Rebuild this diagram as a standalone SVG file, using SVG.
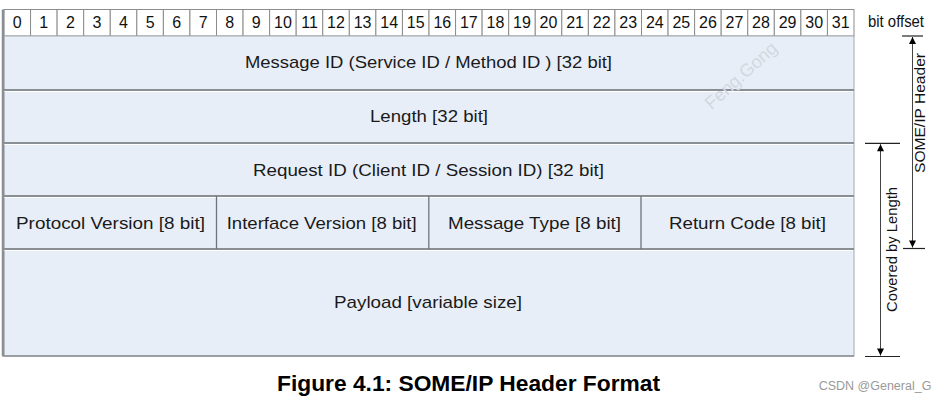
<svg xmlns="http://www.w3.org/2000/svg" width="938" height="402" viewBox="0 0 938 402">
<defs>
<style>
.cell{fill:#fff;stroke:#8c8c8c;stroke-width:1}
.num{font-family:"Liberation Sans",Arial,sans-serif;font-size:16px;fill:#111;text-anchor:middle}
.field{fill:#e8eef8}
.sep{stroke:#8a8f96;stroke-width:2}
.hl{stroke:#ffffff;stroke-width:1}
.div{stroke:#6f747a;stroke-width:1.3}
.lbl{font-family:"Liberation Sans",Arial,sans-serif;font-size:17px;fill:#1a1a1a;text-anchor:middle}
.side{font-family:"Liberation Sans",Arial,sans-serif;font-size:15.5px;fill:#111;text-anchor:middle}
.tick{stroke:#222;stroke-width:1.2}
.arr{stroke:#444;stroke-width:1;marker-start:url(#ah);marker-end:url(#ah)}
</style>
<marker id="ah" viewBox="0 0 10 10" refX="10" refY="5" markerWidth="9" markerHeight="7" markerUnits="userSpaceOnUse" orient="auto-start-reverse"><path d="M0,0 L10,5 L0,10 z" fill="#000"/></marker>
</defs>
<rect width="938" height="402" fill="#fff"/>

<g id="bit-offset-row">
<rect class="cell" x="4" y="9.5" width="26.56" height="26.5"/><text class="num" x="17.3" y="28">0</text>
<rect class="cell" x="30.56" y="9.5" width="26.56" height="26.5"/><text class="num" x="43.8" y="28">1</text>
<rect class="cell" x="57.12" y="9.5" width="26.56" height="26.5"/><text class="num" x="70.4" y="28">2</text>
<rect class="cell" x="83.69" y="9.5" width="26.56" height="26.5"/><text class="num" x="97" y="28">3</text>
<rect class="cell" x="110.25" y="9.5" width="26.56" height="26.5"/><text class="num" x="123.5" y="28">4</text>
<rect class="cell" x="136.81" y="9.5" width="26.56" height="26.5"/><text class="num" x="150.1" y="28">5</text>
<rect class="cell" x="163.38" y="9.5" width="26.56" height="26.5"/><text class="num" x="176.7" y="28">6</text>
<rect class="cell" x="189.94" y="9.5" width="26.56" height="26.5"/><text class="num" x="203.2" y="28">7</text>
<rect class="cell" x="216.5" y="9.5" width="26.56" height="26.5"/><text class="num" x="229.8" y="28">8</text>
<rect class="cell" x="243.06" y="9.5" width="26.56" height="26.5"/><text class="num" x="256.3" y="28">9</text>
<rect class="cell" x="269.62" y="9.5" width="26.56" height="26.5"/><text class="num" x="282.9" y="28">10</text>
<rect class="cell" x="296.19" y="9.5" width="26.56" height="26.5"/><text class="num" x="309.5" y="28">11</text>
<rect class="cell" x="322.75" y="9.5" width="26.56" height="26.5"/><text class="num" x="336" y="28">12</text>
<rect class="cell" x="349.31" y="9.5" width="26.56" height="26.5"/><text class="num" x="362.6" y="28">13</text>
<rect class="cell" x="375.88" y="9.5" width="26.56" height="26.5"/><text class="num" x="389.2" y="28">14</text>
<rect class="cell" x="402.44" y="9.5" width="26.56" height="26.5"/><text class="num" x="415.7" y="28">15</text>
<rect class="cell" x="429" y="9.5" width="26.56" height="26.5"/><text class="num" x="442.3" y="28">16</text>
<rect class="cell" x="455.56" y="9.5" width="26.56" height="26.5"/><text class="num" x="468.8" y="28">17</text>
<rect class="cell" x="482.12" y="9.5" width="26.56" height="26.5"/><text class="num" x="495.4" y="28">18</text>
<rect class="cell" x="508.69" y="9.5" width="26.56" height="26.5"/><text class="num" x="522" y="28">19</text>
<rect class="cell" x="535.25" y="9.5" width="26.56" height="26.5"/><text class="num" x="548.5" y="28">20</text>
<rect class="cell" x="561.81" y="9.5" width="26.56" height="26.5"/><text class="num" x="575.1" y="28">21</text>
<rect class="cell" x="588.38" y="9.5" width="26.56" height="26.5"/><text class="num" x="601.7" y="28">22</text>
<rect class="cell" x="614.94" y="9.5" width="26.56" height="26.5"/><text class="num" x="628.2" y="28">23</text>
<rect class="cell" x="641.5" y="9.5" width="26.56" height="26.5"/><text class="num" x="654.8" y="28">24</text>
<rect class="cell" x="668.06" y="9.5" width="26.56" height="26.5"/><text class="num" x="681.3" y="28">25</text>
<rect class="cell" x="694.62" y="9.5" width="26.56" height="26.5"/><text class="num" x="707.9" y="28">26</text>
<rect class="cell" x="721.19" y="9.5" width="26.56" height="26.5"/><text class="num" x="734.5" y="28">27</text>
<rect class="cell" x="747.75" y="9.5" width="26.56" height="26.5"/><text class="num" x="761" y="28">28</text>
<rect class="cell" x="774.31" y="9.5" width="26.56" height="26.5"/><text class="num" x="787.6" y="28">29</text>
<rect class="cell" x="800.88" y="9.5" width="26.56" height="26.5"/><text class="num" x="814.2" y="28">30</text>
<rect class="cell" x="827.44" y="9.5" width="26.56" height="26.5"/><text class="num" x="840.7" y="28">31</text>
<text x="896" y="27" font-family="'Liberation Sans',Arial,sans-serif" font-size="16px" fill="#111" text-anchor="middle" textLength="56" lengthAdjust="spacingAndGlyphs">bit offset</text>
</g>

<g id="header-body">
<rect class="field" x="4" y="36" width="850" height="320" stroke="#a6abb1" stroke-width="1"/>
<line class="sep" x1="4" y1="90" x2="854" y2="90"/><line class="hl" x1="4" y1="91.5" x2="853" y2="91.5"/>
<line class="sep" x1="4" y1="143" x2="854" y2="143"/><line class="hl" x1="4" y1="144.5" x2="853" y2="144.5"/>
<line class="sep" x1="4" y1="196" x2="854" y2="196"/><line class="hl" x1="4" y1="197.5" x2="853" y2="197.5"/>
<line class="sep" x1="4" y1="249" x2="854" y2="249"/><line class="hl" x1="4" y1="250.5" x2="853" y2="250.5"/>
<line x1="4" y1="356" x2="854" y2="356" stroke="#8a8f96" stroke-width="1.5"/>
<line x1="3" y1="9.5" x2="3" y2="356.5" stroke="#8a8f96" stroke-width="2.5"/>
</g>

<g id="message-id"><text class="lbl" x="428.5" y="68" textLength="367" lengthAdjust="spacingAndGlyphs">Message ID (Service ID / Method ID ) [32 bit]</text></g>
<g id="length"><text class="lbl" x="429" y="122" textLength="118" lengthAdjust="spacingAndGlyphs">Length [32 bit]</text></g>
<g id="request-id"><text class="lbl" x="428.5" y="176" textLength="351" lengthAdjust="spacingAndGlyphs">Request ID (Client ID / Session ID) [32 bit]</text></g>
<g id="protocol-version"><text class="lbl" x="110.5" y="229" textLength="189" lengthAdjust="spacingAndGlyphs">Protocol Version [8 bit]</text></g>
<g id="interface-version"><line class="div" x1="216.5" y1="196" x2="216.5" y2="249"/><text class="lbl" x="321.7" y="229" textLength="190" lengthAdjust="spacingAndGlyphs">Interface Version [8 bit]</text></g>
<g id="message-type"><line class="div" x1="428.8" y1="196" x2="428.8" y2="249"/><text class="lbl" x="534.5" y="229" textLength="173" lengthAdjust="spacingAndGlyphs">Message Type [8 bit]</text></g>
<g id="return-code"><line class="div" x1="641" y1="196" x2="641" y2="249"/><text class="lbl" x="747.5" y="229" textLength="157" lengthAdjust="spacingAndGlyphs">Return Code [8 bit]</text></g>
<g id="payload"><text class="lbl" x="428" y="308" textLength="188" lengthAdjust="spacingAndGlyphs">Payload [variable size]</text></g>

<g id="connectors">
<line class="tick" x1="902" y1="36" x2="923" y2="36"/>
<line class="tick" x1="903" y1="248.5" x2="925" y2="248.5"/>
<line class="arr" x1="912.5" y1="247.5" x2="912.5" y2="37"/>
<line class="tick" x1="865" y1="143.3" x2="900" y2="143.3"/>
<line class="tick" x1="865" y1="356.5" x2="900" y2="356.5"/>
<line class="arr" x1="880.5" y1="355.5" x2="880.5" y2="144.3"/>
</g>

<g id="some-ip-header-label"><text class="side" transform="translate(925 113) rotate(-90)" textLength="120" lengthAdjust="spacingAndGlyphs">SOME/IP Header</text></g>
<g id="covered-by-length-label"><text class="side" transform="translate(897 249.5) rotate(-90)" textLength="125" lengthAdjust="spacingAndGlyphs">Covered by Length</text></g>

<text transform="translate(745 80) rotate(-42)" font-family="'Liberation Sans',Arial,sans-serif" font-size="18px" fill="#d3d8df" text-anchor="middle">Feng.Gong</text>

<text x="468.5" y="390.5" font-family="'Liberation Sans',Arial,sans-serif" font-size="22px" font-weight="bold" fill="#000" text-anchor="middle" textLength="383" lengthAdjust="spacingAndGlyphs">Figure 4.1: SOME/IP Header Format</text>
<text x="875" y="390" font-family="'Liberation Sans',Arial,sans-serif" font-size="12.5px" fill="#9a9a9a" text-anchor="middle">CSDN @General_G</text>
</svg>
